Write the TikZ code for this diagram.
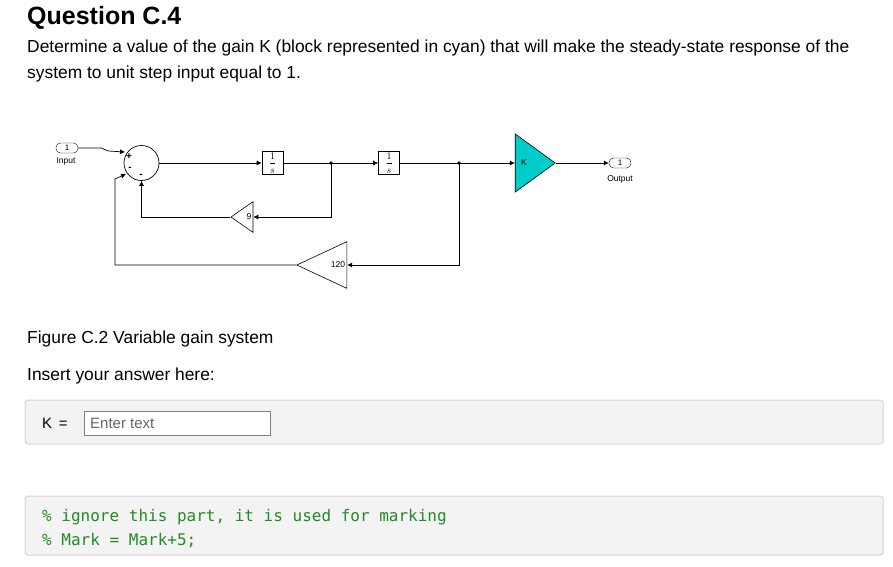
\documentclass[tikz,border=0pt]{standalone}
\usepackage{fontspec}
\setmainfont{Liberation Sans}
\newfontfamily\codefont{DejaVu Sans Mono}
\usetikzlibrary{arrows.meta,shapes.geometric,calc}
\definecolor{panel}{HTML}{F3F3F3}
\definecolor{panelline}{HTML}{D4D4D4}
\definecolor{codegreen}{HTML}{228B22}
\definecolor{gaincyan}{HTML}{00CCCC}
\tikzset{
  sig/.style={line width=0.7pt,-{Latex[length=5pt,width=5pt]}},
  wire/.style={line width=0.7pt},
  blk/.style={draw,line width=0.6pt,minimum width=21pt,minimum height=23pt,inner sep=0pt,font=\fontsize{10}{11}\selectfont},
  port/.style={draw,rounded corners=4.5pt,minimum width=22pt,minimum height=10pt,inner sep=0pt,font=\fontsize{8}{9}\selectfont},
  small/.style={font=\fontsize{8.5}{9}\selectfont},
  sign/.style={inner sep=0pt,font=\fontsize{10}{10}\selectfont\bfseries},
  dot/.style={circle,fill,inner sep=1.3pt},
  body/.style={anchor=base west,inner sep=0pt,font=\fontsize{17.4}{20}\selectfont}
}
\begin{document}
\begin{tikzpicture}[x=1pt,y=-1pt]
\useasboundingbox (0,0) rectangle (893,566);
% heading and question
\node[body,font=\fontsize{25}{28}\selectfont\bfseries] (title) at (27,24) {Question C.4};
\node[body] (q1) at (27,52) {Determine a value of the gain K (block represented in cyan) that will make the steady-state response of the};
\node[body] (q2) at (27,78) {system to unit step input equal to 1.};

% block diagram
\node[port] (in) at (67,148) {1};
\node[small] (inlbl) at (66,161) {Input};
\node[draw,circle,line width=0.7pt,minimum size=35pt,inner sep=0pt] (sum) at (141.5,163) {};
\node[sign] (p1) at (129,157) {+};
\node[sign] (m1) at (130,169) {-};
\node[sign] (m2) at (141,175.5) {-};
\node[blk] (int1) at (272.5,163) {$\displaystyle\frac{1}{s}$};
\node[blk] (int2) at (389,163) {$\displaystyle\frac{1}{s}$};
\node[dot] (b1) at (331,163) {};
\node[dot] (b2) at (459,163) {};
\node[draw,fill=gaincyan,isosceles triangle,isosceles triangle apex angle=72,minimum height=40pt,inner sep=0pt,line width=0.6pt] (k) at (530,163) {};
\node[small] (klbl) at (524,163) {K};
\node[port] (out) at (620,163) {1};
\node[small] (outlbl) at (620,179) {Output};
\node[draw,isosceles triangle,shape border rotate=180,minimum height=22pt,isosceles triangle apex angle=70,inner sep=0pt,line width=0.6pt] (g9) at (245,217) {};
\node[small] (g9lbl) at (249,217) {9};
\node[draw,isosceles triangle,shape border rotate=180,minimum height=50pt,isosceles triangle apex angle=50,inner sep=0pt,line width=0.6pt] (g120) at (332,265) {};
\node[small] (g120lbl) at (338,265) {120};
\coordinate (s1) at (125,152);
\coordinate (s2) at (126,174);

\draw[sig] (in.east) -- ++(23,0) -- ++(7,3) -- (s1);
\draw[sig] (sum.east) -- (int1.west);
\draw[wire] (int1.east) -- (b1.center);
\draw[sig] (b1.center) -- (int2.west);
\draw[wire] (int2.east) -- (b2.center);
\draw[sig] (b2.center) -- (k.west);
\draw[sig] (k.apex) -- (out.west);
\draw[sig] (b1.center) |- (g9.east);
\draw[sig] (g9.apex) -| (sum.south);
\draw[sig] (b2.center) |- (g120.east);
\draw[sig] (g120.apex) -| (115,179) -- (s2);

% answer section
\node[body] (fig) at (27,343) {Figure C.2 Variable gain system};
\node[body] (ins) at (27,380) {Insert your answer here:};
\draw[panelline,fill=panel,rounded corners=3pt,line width=1pt] (25,400) rectangle (883,444);
\node[anchor=base west,inner sep=0pt,font=\fontsize{15}{16}\selectfont] (klab) at (42,428) {K \,=};
\draw[gray,fill=white,line width=0.8pt] (84,411) rectangle (270,435);
\node[anchor=base west,inner sep=0pt,text=gray!80!black,font=\fontsize{15}{16}\selectfont] (ph) at (90,428) {Enter text};
\draw[panelline,fill=panel,rounded corners=3pt,line width=1pt] (25,496) rectangle (883,555);
\node[anchor=base west,inner sep=0pt,text=codegreen,font=\codefont\fontsize{16}{18}\selectfont] (c1) at (42,521) {\% ignore this part, it is used for marking};
\node[anchor=base west,inner sep=0pt,text=codegreen,font=\codefont\fontsize{16}{18}\selectfont] (c2) at (42,545) {\% Mark = Mark+5;};
\end{tikzpicture}
\end{document}
